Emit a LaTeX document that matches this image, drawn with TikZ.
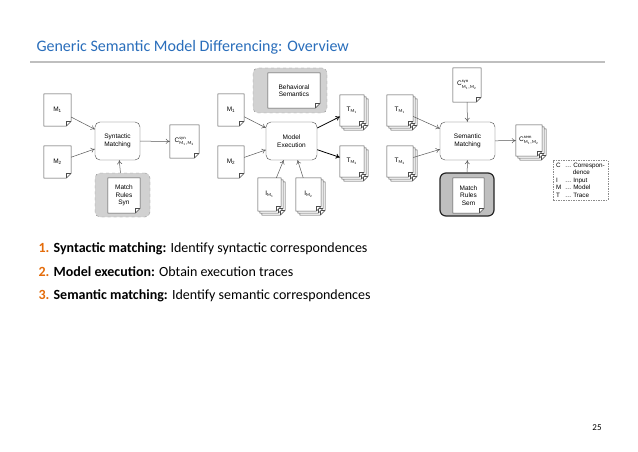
\documentclass[tikz,border=0pt]{standalone}
\usepackage{fontspec}
\setmainfont{Carlito}
\newfontfamily\diafont{Liberation Sans}
\usetikzlibrary{arrows.meta}
\definecolor{titleblue}{HTML}{2A6EBB}
\definecolor{numorange}{HTML}{E46C0A}
\tikzset{
 docn/.style={inner sep=0pt,font=\diafont\fontsize{6.5}{7.5}\selectfont,align=center},
 procbox/.style={draw=black!70,rounded corners=5pt,fill=white,inner sep=0pt,font=\diafont\fontsize{6.5}{8}\selectfont,align=center},
 conn/.style={draw=black!65,-{To[length=4pt,width=5pt]},line width=0.5pt},
 bconn/.style={draw=black,-{To[length=4pt,width=5pt]},line width=0.8pt},
 greybox/.style={draw=black!40,dashed,fill=black!18,rounded corners=5pt,inner sep=0pt},
}
\newcommand\docpath[2]{\filldraw[fill=white,draw=black!70,line width=0.5pt]
 ([shift={#2}]#1.north west) -- ([shift={#2}]#1.north east) -- ([shift={#2},yshift=5pt]#1.south east)
 -- ([shift={#2},xshift=-5pt]#1.south east) -- ([shift={#2}]#1.south west) -- cycle;
 \draw[draw=black!70,line width=0.5pt] ([shift={#2},yshift=5pt]#1.south east) -- ([shift={#2},xshift=-5pt,yshift=5pt]#1.south east) -- ([shift={#2},xshift=-5pt]#1.south east);}
\newcommand\onedoc[1]{\docpath{#1}{(0pt,0pt)}}
\newcommand\stackdoc[1]{\docpath{#1}{(4pt,-4pt)}\docpath{#1}{(2pt,-2pt)}\docpath{#1}{(0pt,0pt)}}
\newcommand\legrow[2]{\makebox[9pt][l]{#1}#2}
\begin{document}
\begin{tikzpicture}[x=1pt,y=-1pt]
\useasboundingbox (0,0) rectangle (638,452);
\fill[white] (0,0) rectangle (638,452);
\node[anchor=west,text=titleblue,font=\fontsize{16}{18}\selectfont] (title) at (33,47) {Generic Semantic Model Differencing: Overview};
\draw[black!25,line width=1.2pt] (30,62) -- (605,62);
% grey boxes
\node[greybox,minimum width=55,minimum height=44] (gsyn) at (122.5,195) {};
\node[greybox,minimum width=74,minimum height=45] (gbeh) at (290,90.5) {};
\node[draw=black!85,line width=1.2pt,fill=black!25,rounded corners=6pt,minimum width=54,minimum height=43] (gsem) at (467,194.5) {};
% documents
\node[docn,minimum width=27,minimum height=32] (m1a) at (57.5,110) {};\onedoc{m1a}\node[docn] at (m1a) {M\textsubscript{1}};
\node[docn,minimum width=27,minimum height=32] (m2a) at (57.5,162) {};\onedoc{m2a}\node[docn] at (m2a) {M\textsubscript{2}};
\node[docn,minimum width=29,minimum height=33] (csyna) at (184.5,141.5) {};\onedoc{csyna}\node[docn] at (csyna) {C$^{\mathrm{syn}}_{\mathrm{M_1,M_2}}$};
\node[docn,minimum width=32,minimum height=35] (mrsyn) at (124,195.5) {};\onedoc{mrsyn}\node[docn] at (mrsyn) {Match\\Rules\\Syn};
\node[docn,minimum width=26,minimum height=32] (m1b) at (231,110) {};\onedoc{m1b}\node[docn] at (m1b) {M\textsubscript{1}};
\node[docn,minimum width=26,minimum height=32] (m2b) at (231,162) {};\onedoc{m2b}\node[docn] at (m2b) {M\textsubscript{2}};
\node[docn,minimum width=52,minimum height=35] (beh) at (294,90.5) {};\onedoc{beh}\node[docn] at (beh) {Behavioral\\Semantics};
\node[docn,minimum width=23,minimum height=33] (im1) at (269.5,194.5) {};\stackdoc{im1}\node[docn] at (im1) {I$_{\mathrm{M_1}}$};
\node[docn,minimum width=25,minimum height=33] (im2) at (308.5,194.5) {};\stackdoc{im2}\node[docn] at (im2) {I$_{\mathrm{M_2}}$};
\node[docn,minimum width=24,minimum height=31] (tm1a) at (352,110.5) {};\stackdoc{tm1a}\node[docn] at (tm1a) {T$_{\mathrm{M_1}}$};
\node[docn,minimum width=24,minimum height=31] (tm2a) at (352,161.5) {};\stackdoc{tm2a}\node[docn] at (tm2a) {T$_{\mathrm{M_2}}$};
\node[docn,minimum width=26,minimum height=31] (tm1b) at (400,110.5) {};\stackdoc{tm1b}\node[docn] at (tm1b) {T$_{\mathrm{M_1}}$};
\node[docn,minimum width=26,minimum height=31] (tm2b) at (400,161.5) {};\stackdoc{tm2b}\node[docn] at (tm2b) {T$_{\mathrm{M_2}}$};
\node[docn,minimum width=28,minimum height=34] (csynb) at (467,85) {};\onedoc{csynb}\node[docn] at (csynb) {C$^{\mathrm{syn}}_{\mathrm{M_1,M_2}}$};
\node[docn,minimum width=31,minimum height=35] (mrsem) at (468.5,195.5) {};\onedoc{mrsem}\node[docn] at (mrsem) {Match\\Rules\\Sem};
\node[docn,minimum width=26,minimum height=31] (csem) at (529,140.5) {};\stackdoc{csem}\node[docn] at (csem) {C$^{\mathrm{sem}}_{\mathrm{M_1,M_2}}$};
% process boxes
\node[procbox,minimum width=45,minimum height=38] (synm) at (117.5,141) {Syntactic\\Matching};
\node[procbox,minimum width=51,minimum height=38] (mex) at (291.5,141) {Model\\Execution};
\node[procbox,minimum width=55,minimum height=38] (semm) at (467.5,141) {Semantic\\Matching};
% legend
\node[draw=black!45,dash pattern=on 1.5pt off 1pt,inner sep=3pt,align=left,font=\diafont\fontsize{6.3}{7.4}\selectfont,anchor=north west] (leg) at (553,160) {%
\legrow{C}{\dots\ Correspon-}\\\legrow{}{\hspace{1.2em}dence}\\\legrow{I}{\dots\ Input}\\\legrow{M}{\dots\ Model}\\\legrow{T}{\dots\ Trace}};
% connectors
\draw[conn] (m1a) -- (synm);
\draw[conn] (m2a) -- (synm);
\draw[conn] (synm) -- (csyna);
\draw[conn] (gsyn) -- (synm);
\draw[conn] (m1b) -- (mex);
\draw[conn] (m2b) -- (mex);
\draw[conn] (im1) -- (mex);
\draw[conn] (im2) -- (mex);
\draw[bconn] (mex) -- (tm1a);
\draw[bconn] (mex) -- (tm2a);
\draw[conn] (tm1b) -- (semm);
\draw[conn] (tm2b) -- (semm);
\draw[conn] (csynb) -- (semm);
\draw[conn] (gsem) -- (semm);
\draw[conn] (semm) -- (csem);
% list
\node[anchor=west,font=\fontsize{14}{16}\selectfont] (l1) at (35,249) {\textcolor{numorange}{\textbf{1.}} \textbf{Syntactic matching:} Identify syntactic correspondences};
\node[anchor=west,font=\fontsize{14}{16}\selectfont] (l2) at (35,272) {\textcolor{numorange}{\textbf{2.}} \textbf{Model execution:} Obtain execution traces};
\node[anchor=west,font=\fontsize{14}{16}\selectfont] (l3) at (35,296) {\textcolor{numorange}{\textbf{3.}} \textbf{Semantic matching:} Identify semantic correspondences};
\node[font=\fontsize{9}{10}\selectfont] (pg) at (597,428) {25};
\end{tikzpicture}
\end{document}
